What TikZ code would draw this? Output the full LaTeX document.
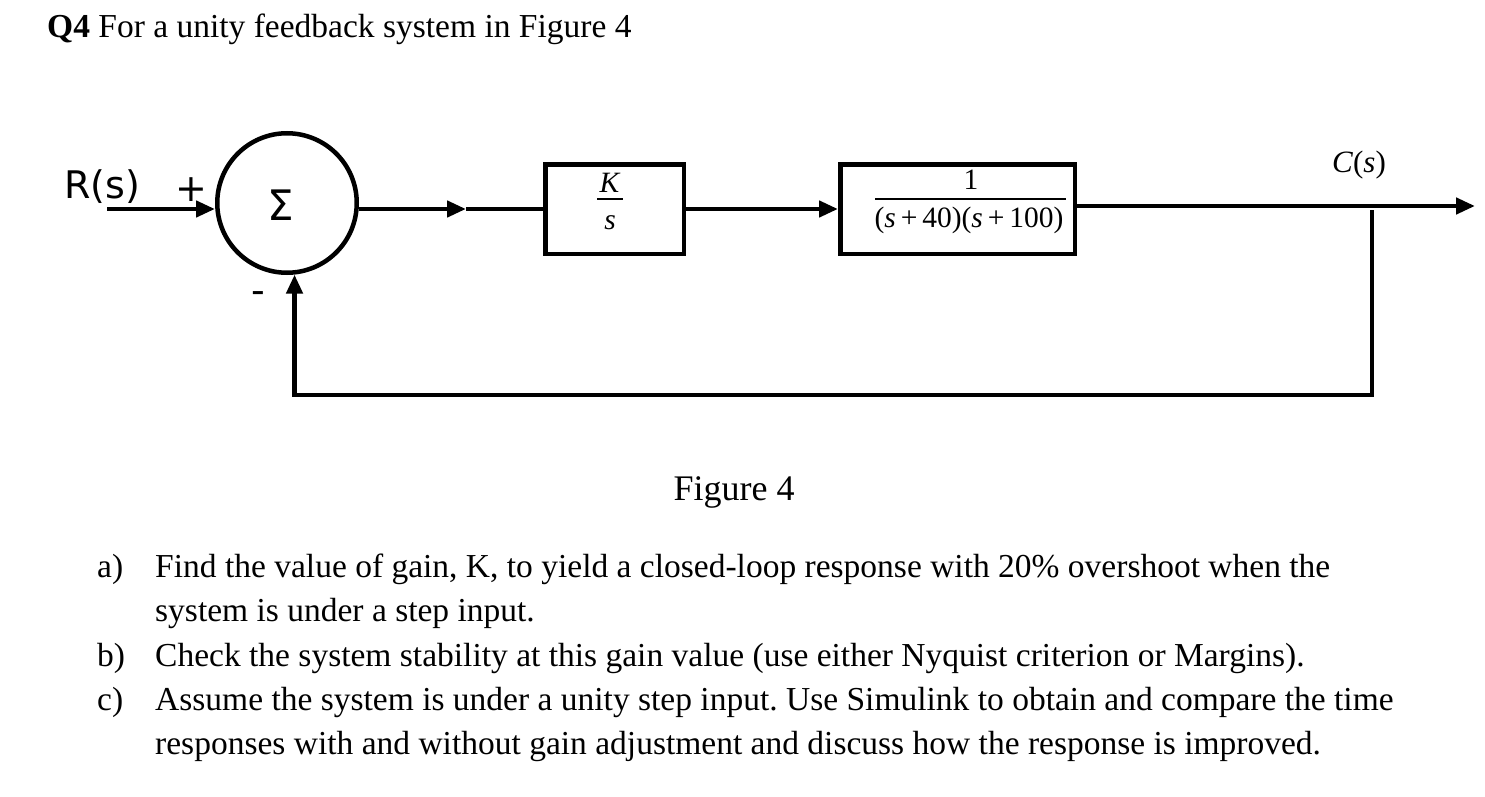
\documentclass[tikz,border=0pt]{standalone}
\usepackage{fontspec}
\setmainfont{Liberation Serif}
\newfontfamily\dvs{DejaVu Sans}
\usetikzlibrary{arrows.meta}
\frenchspacing
\begin{document}
\begin{tikzpicture}[x=1pt,y=-1pt,
  wire/.style={line width=4.5pt},
  arr/.style={wire,-{Triangle[length=19pt,width=16pt]}},
  blk/.style={draw,line width=4.5pt,inner sep=0pt,minimum height=89.5pt},
  bar/.style={line width=2pt},
  body/.style={inner sep=0pt,anchor=base west,font=\fontsize{33.5}{40}\selectfont},
  eq/.style={inner sep=0pt,font=\fontsize{29.5}{30}\selectfont},
  sanslbl/.style={inner sep=0pt,font=\dvs\fontsize{38}{40}\selectfont}]
\useasboundingbox[fill=white] (0,0) rectangle (1485,797);

% title
\node[body] (title) at (47,38) {\textbf{Q4} For a unity feedback system in Figure 4};

% block diagram
\node[circle,draw,line width=4.5pt,minimum size=139.5pt,inner sep=0pt] (sum) at (287,203) {};
\node[sanslbl,font=\dvs\fontsize{42}{44}\selectfont] (sigma) at (281,205) {Σ};
\node[sanslbl,anchor=base west] (rs) at (64,198) {R(s)};
\node[sanslbl] (plus) at (191,190) {+};
\node[sanslbl] (minus) at (258,298) {-};

\node[blk,minimum width=138.5pt] (kblk) at (614.5,209) {};
\node[eq] (knum) at (610,183) {\textit{K}};
\node[eq] (kden) at (610,223) {\textit{s}};
\coordinate (kb1) at (597,199);
\coordinate (kb2) at (623,199);
\draw[bar] (kb1) -- (kb2);

\node[blk,minimum width=234.5pt] (gblk) at (957.5,209) {};
\node[eq] (gnum) at (971,180) {1};
\node[eq] (gden) at (969,220) {(\textit{s}\,+\,40)(\textit{s}\,+\,100)};
\coordinate (gb1) at (875,199);
\coordinate (gb2) at (1066,199);
\draw[bar] (gb1) -- (gb2);

\node[eq,font=\fontsize{31}{32}\selectfont] (cs) at (1359,165) {\textit{C}(\textit{s})};

% connectors
\coordinate (rin) at (107,209);
\coordinate (mid) at (466,209);
\coordinate (cout) at (1475,206);
\coordinate (fb1) at (1372,210);
\coordinate (fb2) at (1372,395);

\draw[arr] (rin) -- (sum.west |- rin);
\draw[arr] (sum.east |- mid) -- (mid);
\draw[wire] (mid) -- (kblk.west);
\draw[arr] (kblk.east) -- (gblk.west);
\draw[arr] (gblk.east |- cout) -- (cout);
\draw[arr] (fb1) -- (fb2) -- (fb2 -| sum.-84) -- (sum.-84);

% caption and questions
\node[inner sep=0pt,anchor=base,font=\fontsize{36}{40}\selectfont] (fig) at (734,500) {Figure 4};

\node[body] (qa) at (97,577) {a)};
\node[body] (qa1) at (155,577) {Find the value of gain, K, to yield a closed-loop response with 20\% overshoot when the};
\node[body] (qa2) at (155,621) {system is under a step input.};
\node[body] (qb) at (97,666) {b)};
\node[body] (qb1) at (155,666) {Check the system stability at this gain value (use either Nyquist criterion or Margins).};
\node[body] (qc) at (97,710) {c)};
\node[body] (qc1) at (155,710) {Assume the system is under a unity step input. Use Simulink to obtain and compare the time};
\node[body] (qc2) at (155,754) {responses with and without gain adjustment and discuss how the response is improved.};
\end{tikzpicture}
\end{document}
